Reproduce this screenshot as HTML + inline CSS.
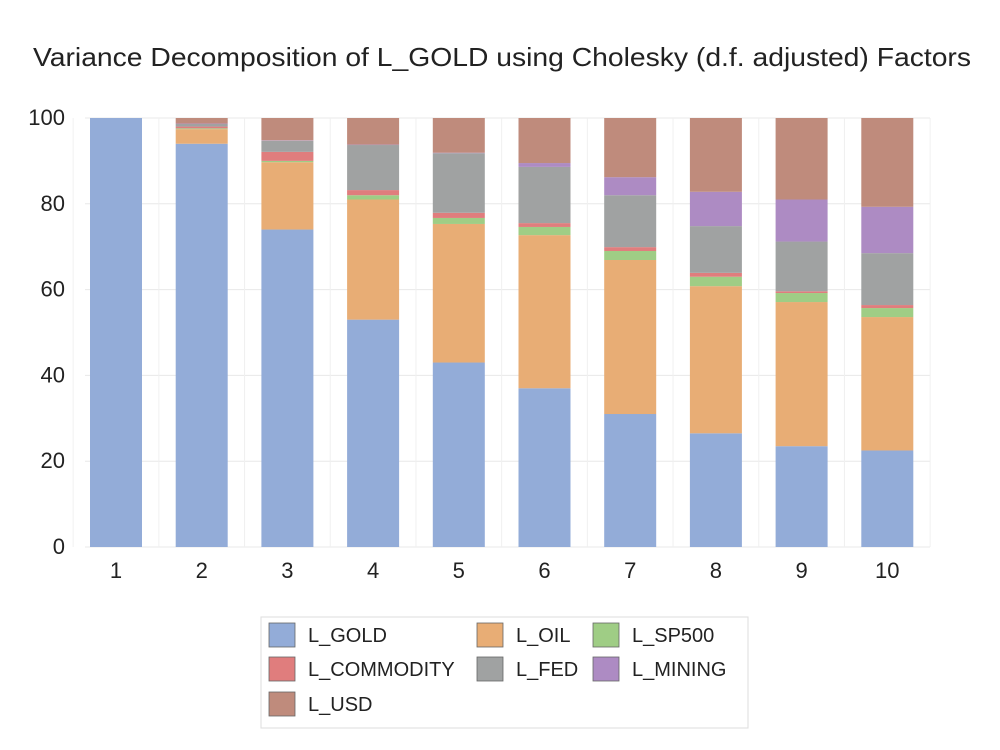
<!DOCTYPE html>
<html><head><meta charset="utf-8"><style>
body{margin:0;background:#fff;}
svg{display:block;font-family:"Liberation Sans",sans-serif;}
</style></head><body>
<svg id="chart" width="1000" height="750">
<text x="502" y="66" text-anchor="middle" font-size="26" textLength="938" lengthAdjust="spacingAndGlyphs" fill="#222">Variance Decomposition of L_GOLD using Cholesky (d.f. adjusted) Factors</text>
<g id="grid"></g><g id="bars"></g><g id="axes"></g>
<rect x="261" y="617" width="487" height="111" fill="#fff" stroke="#ddd"/>
<g id="legend"></g>
</svg>
<script>
const periods=["1","2","3","4","5","6","7","8","9","10"];
const seriesNames=["L_GOLD","L_OIL","L_SP500","L_COMMODITY","L_FED","L_MINING","L_USD"];
const gold=[100,94,74,53,43,37,31,26.5,23.5,22.5];
const oil=[0,3.4,15.7,28,32.3,35.7,35.9,34.3,33.6,31.1];
const sp500=[0,0.2,0.3,1,1.4,1.9,2.1,2.2,2.1,2.1];
const commodity=[0,0.4,2.1,1.2,1.2,0.9,0.9,0.9,0.4,0.7];
const fed=[0,0.6,2.6,10.5,13.9,13.1,12.1,10.9,11.6,12.1];
const mining=[0,0.1,0.1,0.1,0.1,0.9,4.2,8,9.8,10.8];
const usd=[0,1.3,5.2,6.2,8.1,10.5,13.8,17.2,19,20.7];
const yTicks=[0,20,40,60,80,100];
const colors=["#93acd8","#e8ad75","#9fcd85","#e07d7d","#a0a2a2","#ad8bc3","#bf8b7c"];
const series=[gold,oil,sp500,commodity,fed,mining,usd];
const NS="http://www.w3.org/2000/svg";
const y=v=>547-v*4.29;
const x=i=>116+i*85.7;
const bw=52;
function mk(tag,attrs,parent){const e=document.createElementNS(NS,tag);for(const k in attrs)e.setAttribute(k,attrs[k]);document.getElementById(parent).appendChild(e);return e;}
yTicks.forEach(t=>{
 const l=mk("line",{x1:85,x2:930,y1:y(t),y2:y(t),stroke:"#e8e8e8"},"grid");
 
 
 const tx=mk("text",{x:65,y:y(t)+7,"text-anchor":"end","font-size":"22",fill:"#222"},"axes");
 tx.textContent=t;
 
 
});
for(let i=0;i<=periods.length;i++){
 const l=mk("line",{x1:x(i)-42.85,x2:x(i)-42.85,y1:y(100),y2:y(0),stroke:"#f0f0f0"},"grid");
 
 
}
periods.forEach((p,i)=>{
 let acc=0;
 series.forEach((s,k)=>{
  const v=s[i];
  if(v>0){
   const r=mk("rect",{x:x(i)-bw/2,y:y(acc+v),width:bw,height:y(acc)-y(acc+v),fill:colors[k]},"bars");
   
   
  }
  acc+=v;
 });
 const t=mk("text",{x:x(i),y:578,"text-anchor":"middle","font-size":"22",fill:"#222"},"axes");
 t.textContent=p;
 
 
});
const lpos=[[269,635],[477,635],[593,635],[269,669],[477,669],[593,669],[269,704]];
seriesNames.forEach((n,k)=>{
 const [lx,ly]=lpos[k];
 const r=mk("rect",{x:lx,y:ly-12,width:26,height:24,fill:colors[k],stroke:"#666","stroke-width":"0.8"},"legend");
 
 
 const t=mk("text",{x:lx+39,y:ly+7,"font-size":"20",fill:"#222"},"legend");
 t.textContent=n;
 
 
});
</script>
</body></html>
